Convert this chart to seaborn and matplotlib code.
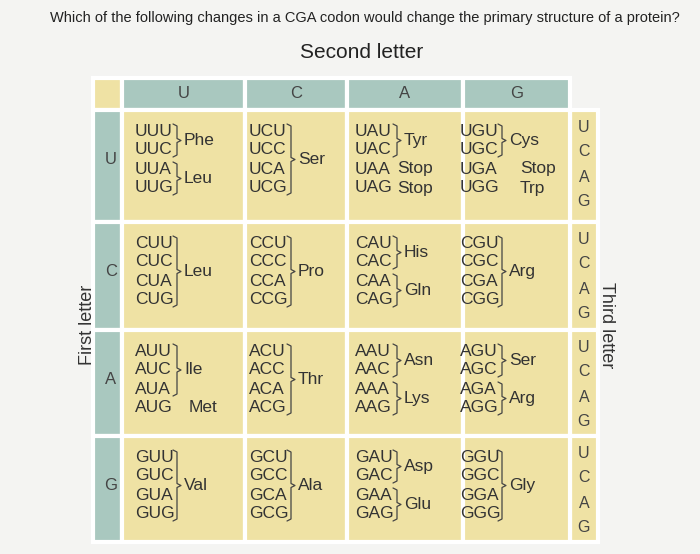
import matplotlib
matplotlib.use("Agg")
import matplotlib.pyplot as plt
import seaborn as sns
import numpy as np
from matplotlib.patches import Rectangle

sns.set_theme(style="white")
plt.rcParams['font.family'] = ['Liberation Sans', 'DejaVu Sans']

bases = ["U", "C", "A", "G"]
title = "Which of the following changes in a CGA codon would change the primary structure of a protein?"
# amino acid blocks: (first letter idx, second letter idx, start codon idx, end codon idx, label)
blocks = [
    (0,0,0,1,"Phe"),(0,0,2,3,"Leu"),(0,1,0,3,"Ser"),(0,2,0,1,"Tyr"),(0,3,0,1,"Cys"),
    (1,0,0,3,"Leu"),(1,1,0,3,"Pro"),(1,2,0,1,"His"),(1,2,2,3,"Gln"),(1,3,0,3,"Arg"),
    (2,0,0,2,"Ile"),(2,1,0,3,"Thr"),(2,2,0,1,"Asn"),(2,2,2,3,"Lys"),(2,3,0,1,"Ser"),(2,3,2,3,"Arg"),
    (3,0,0,3,"Val"),(3,1,0,3,"Ala"),(3,2,0,1,"Asp"),(3,2,2,3,"Glu"),(3,3,0,3,"Gly"),
]
# single codons with inline label: (first, second, codon idx, label)
singles = [(0,2,2,"Stop"),(0,2,3,"Stop"),(0,3,2,"Stop"),(0,3,3,"Trp"),(2,0,3,"Met")]

fig = plt.figure(figsize=(7, 5.54), dpi=100)
fig.patch.set_facecolor("#f4f4f2")

beige = "#efe2a4"; teal = "#a9c8bf"
col_edges = [122, 245, 347, 463, 570]
row_edges = [110, 222, 330, 436, 542]
# beige body background via seaborn heatmap
hax = fig.add_axes([122/700, 1-542/554, (570-122)/700, (542-110)/554])
sns.heatmap(np.zeros((4, 4)), ax=hax, cmap=[beige], cbar=False,
            xticklabels=False, yticklabels=False)
ax = fig.add_axes([0, 0, 1, 1])
ax.set_xlim(0, 700); ax.set_ylim(554, 0); ax.axis("off")
ax.patch.set_alpha(0)

def rect(x0, y0, x1, y1, c):
    ax.add_patch(Rectangle((x0, y0), x1-x0, y1-y0, facecolor=c, edgecolor="white", lw=3))

rect(93, 78, 122, 110, beige)
for j in range(4):
    rect(col_edges[j], 78, col_edges[j+1], 110, teal)
    ax.text((col_edges[j]+col_edges[j+1])/2, 94, bases[j], ha="center", va="center", fontsize=12, color="#444")
for i in range(4):
    rect(93, row_edges[i], 122, row_edges[i+1], teal)
    rect(570, row_edges[i], 598, row_edges[i+1], beige)
    for j in range(4):
        rect(col_edges[j], row_edges[i], col_edges[j+1], row_edges[i+1], beige)
    ax.text(111, row_edges[i]+50, bases[i], ha="center", va="center", fontsize=12, color="#444")
    for k in range(4):
        ax.text(584, row_edges[i]+17+k*25, bases[k], ha="center", va="center", fontsize=11.5, color="#444")

ax.text(50, 18, title, ha="left", va="center", fontsize=10.5, color="#222")
ax.text(362, 52, "Second letter", ha="center", va="center", fontsize=15, color="#222")
ax.text(88, 325, "First letter", ha="center", va="center", rotation=90, fontsize=13, color="#333")
ax.text(607, 325, "Third letter", ha="center", va="center", rotation=-90, fontsize=13, color="#333")

cod_x = [135, 249, 355, 460]
def cy(i, k):
    return row_edges[i] + 21 + k*19

for i in range(4):
    for j in range(4):
        for k in range(4):
            ax.text(cod_x[j], cy(i, k), bases[i]+bases[j]+bases[k], ha="left", va="center",
                    fontsize=12.5, color="#333")

def bracket(x, y0, y1):
    ym = (y0+y1)/2
    ax.plot([x, x+4, x+4, x+8, x+4, x+4, x], [y0-7, y0-5, ym-2, ym, ym+2, y1+5, y1+7],
            color="#444", lw=0.9)

for i, j, s, e, lab in blocks:
    x = cod_x[j] + 38
    bracket(x, cy(i, s), cy(i, e))
    ax.text(x+11, (cy(i, s)+cy(i, e))/2, lab, ha="left", va="center", fontsize=12.5, color="#333")
for i, j, k, lab in singles:
    off = 54 if j == 0 else (42 if lab == "Stop" and j == 2 else 60)
    ax.text(cod_x[j] + off, cy(i, k), lab, ha="left", va="center", fontsize=12.5, color="#333")

fig.savefig("out.png", dpi=100, facecolor=fig.get_facecolor())
